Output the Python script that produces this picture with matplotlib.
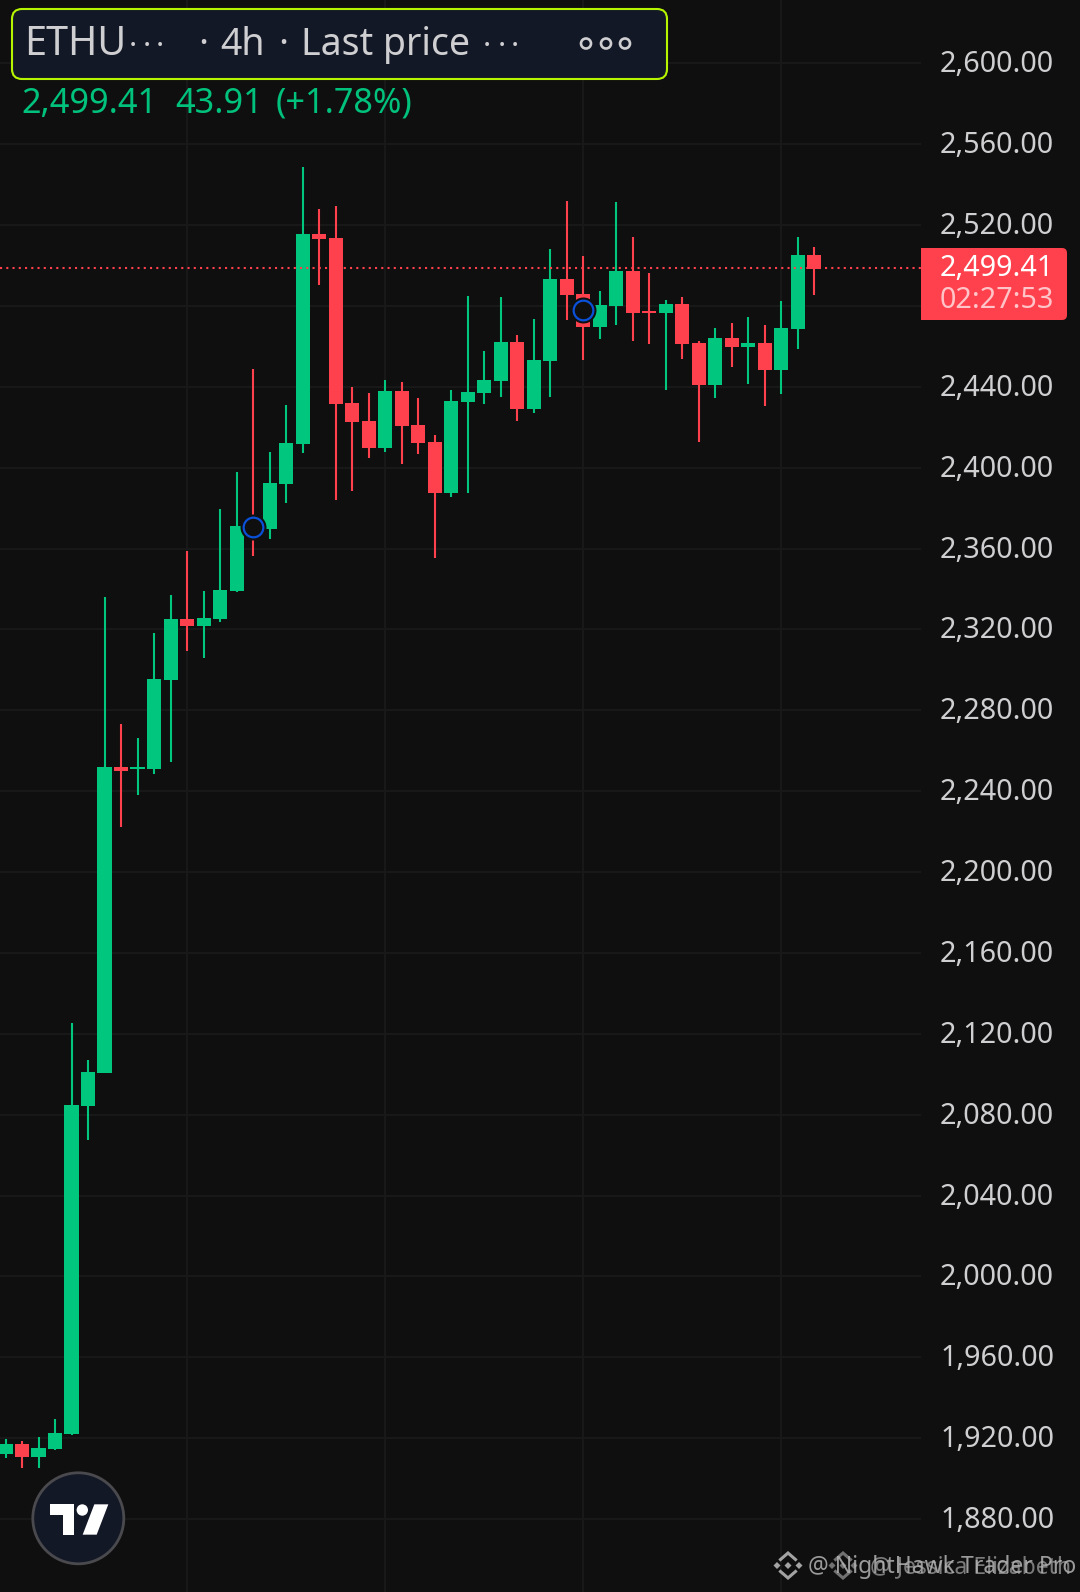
import matplotlib
matplotlib.use('Agg')
import matplotlib.pyplot as plt
from matplotlib.patches import FancyBboxPatch, Circle, Polygon, Rectangle
from matplotlib.transforms import ScaledTranslation
import numpy as np

plt.rcParams['font.family'] = ['Noto Sans', 'DejaVu Sans']

# candles
opens = [1912.3, 1917.1, 1910.8, 1914.6, 1922.0, 2084.3, 2100.6, 2251.9, 2251.0, 2251.0,
         2295.0, 2325.1, 2321.7, 2325.1, 2339.0, 2371.1, 2369.7, 2391.9, 2411.7, 2515.6,
         2513.6, 2432.0, 2423.1, 2409.7, 2437.9, 2421.1, 2412.7, 2387.5, 2432.5, 2436.9,
         2442.9, 2462.1, 2429.0, 2452.7, 2493.3, 2485.9, 2469.6, 2480.0, 2497.3, 2477.5,
         2476.5, 2480.9, 2461.7, 2440.9, 2464.1, 2459.7, 2461.7, 2448.3, 2468.6, 2505.2]
highs = [1919.6, 1918.6, 1920.6, 1929.5, 2125.3, 2107.0, 2336.0, 2273.2, 2266.3, 2318.2,
         2337.0, 2358.8, 2339.0, 2379.5, 2397.8, 2448.8, 2407.7, 2431.0, 2548.7, 2527.9,
         2529.4, 2439.9, 2436.9, 2443.4, 2442.4, 2434.4, 2416.1, 2438.4, 2484.9, 2457.7,
         2484.4, 2465.6, 2473.5, 2508.1, 2531.9, 2504.7, 2487.4, 2531.4, 2514.1, 2496.3,
         2482.9, 2484.4, 2462.6, 2469.1, 2471.5, 2474.5, 2470.6, 2482.4, 2514.1, 2509.1]
lows = [1910.3, 1905.4, 1905.4, 1914.1, 1921.5, 2067.5, 2100.6, 2222.3, 2238.1, 2248.5,
        2254.4, 2309.3, 2305.9, 2323.7, 2338.5, 2356.3, 2364.7, 2382.5, 2407.2, 2490.3,
        2384.0, 2388.5, 2404.8, 2407.7, 2401.8, 2406.8, 2355.3, 2385.5, 2387.5, 2431.5,
        2434.9, 2423.1, 2427.0, 2434.9, 2473.0, 2453.2, 2463.6, 2470.6, 2462.6, 2461.2,
        2438.4, 2453.7, 2412.7, 2434.4, 2449.8, 2441.4, 2430.5, 2436.4, 2458.7, 2485.4]
closes = [1917.1, 1910.8, 1915.1, 1922.5, 2084.8, 2101.1, 2251.9, 2250.0, 2251.9, 2295.5,
          2325.1, 2321.7, 2325.6, 2339.5, 2371.1, 2368.7, 2392.4, 2412.2, 2515.6, 2513.1,
          2431.5, 2422.6, 2409.7, 2437.9, 2420.6, 2412.2, 2387.5, 2433.0, 2437.4, 2443.4,
          2462.1, 2429.0, 2453.2, 2493.3, 2485.4, 2469.6, 2480.4, 2497.3, 2476.5, 2476.5,
          2480.9, 2461.2, 2440.9, 2464.1, 2459.7, 2461.7, 2448.3, 2469.1, 2505.2, 2498.3]

price_ticks = [1880, 1920, 1960, 2000, 2040, 2080, 2120, 2160, 2200, 2240, 2280, 2320,
               2360, 2400, 2440, 2480, 2520, 2560, 2600]
# the pane skips this label, the price tag sits there
hidden_tick = 2480
time_ticks = [11, 23, 35, 47]

event_idx = [15, 35]
event_prices = [2370.8, 2478.0]
last_price = 2499.41
line_price = 2498.8

BG = '#0F0F0F'
GREEN = '#01C67E'
RED = '#FF404D'
GRID = '#181818'
LABEL = '#CFCFD2'
VALUE_GREEN = '#00C27C'

fig = plt.figure(figsize=(10.8, 15.92), dpi=100, facecolor=BG)
ax = fig.add_axes([0, 0, 921 / 1080, 1], facecolor=BG)

x = np.arange(len(opens))
opens_a = np.array(opens)
closes_a = np.array(closes)
colors = [GREEN if c >= o else RED for o, c in zip(opens, closes)]

ax.vlines(x, lows, highs, colors=colors, linewidth=1.5, zorder=3)
ax.bar(x, closes_a - opens_a, bottom=opens_a, width=0.85, color=colors, linewidth=0, zorder=4)

ax.axhline(line_price, color=RED, linewidth=1.5, linestyle=(0, (1, 2)), zorder=5)

ax.scatter(event_idx, event_prices, s=350, color=BG, linewidths=0, zorder=6)
ax.scatter(event_idx, event_prices, s=200, facecolor=BG, edgecolor='#0A50D8', linewidths=1.6, zorder=7)

ax.set_xlim(-1 / 3, 55.48)
ax.set_ylim(1843.9, 2631.3)
ax.yaxis.tick_right()
ax.set_yticks(price_ticks)
ax.set_yticklabels(['' if p == hidden_tick else f'{p:,.2f}' for p in price_ticks])
ax.set_xticks(time_ticks)
ax.set_xticklabels([])
ax.tick_params(length=0, pad=13.7, labelsize=20.7, labelcolor=LABEL)
for lab in ax.get_yticklabels():
    lab.set_transform(lab.get_transform() + ScaledTranslation(0, 2 / 100, fig.dpi_scale_trans))
ax.grid(True, color=GRID, linewidth=1.5)
ax.set_axisbelow(True)
for s in ax.spines.values():
    s.set_visible(False)

# overlay in screen pixels for the header, the tag and the logos
ov = fig.add_axes([0, 0, 1, 1], zorder=10)
ov.set_xlim(0, 1080)
ov.set_ylim(1592, 0)
ov.axis('off')

ov.add_patch(FancyBboxPatch((12, 9), 655, 70, boxstyle='round,pad=0,rounding_size=10',
                            facecolor='#131826', edgecolor='#B6F500', linewidth=1.5))
hdr = dict(color=LABEL, fontsize=27, va='baseline', ha='left')
ov.text(24.5, 55, 'ETHU', color=LABEL, fontsize=28.5, va='baseline', ha='left')
ov.text(198, 55, '·', **hdr)
ov.text(220, 55, '4h', **hdr)
ov.text(278, 55, '·', **hdr)
ov.text(301, 55, 'Last price', **hdr)
for cx in [133, 147, 160, 487, 501.5, 515]:
    ov.text(cx, 55, '·', color=LABEL, fontsize=22, va='baseline', ha='center')
for cx in [586, 606, 625]:
    ov.add_patch(Circle((cx, 43.5), 5, facecolor='none', edgecolor=LABEL, linewidth=1.9))

val = dict(color=VALUE_GREEN, fontsize=24.7, va='baseline', ha='left')
ov.text(21.5, 113, '2,499.41', **val)
ov.text(175.5, 113, '43.91', **val)
ov.text(276, 113, '(+1.78%)', **val)

# price tag
ov.add_patch(FancyBboxPatch((921, 248), 146, 72, boxstyle='round,pad=0,rounding_size=5',
                            facecolor=RED, edgecolor='none'))
ov.add_patch(Rectangle((921, 248), 20, 72, facecolor=RED, edgecolor='none'))
ov.text(940, 276, f'{last_price:,.2f}', color='white', fontsize=20.7, va='baseline', ha='left')
ov.text(940, 308, '02:27:53', color='#FFC4C8', fontsize=20.7, va='baseline', ha='left')

# tradingview logo
ov.add_patch(Circle((78.3, 1518.3), 45.5, facecolor='#131826', edgecolor='#4A4A4E', linewidth=2))
t_shape = np.array([[150, 313], [223, 313], [223, 404], [190, 404], [190, 346], [150, 346]]) / 3 + [0, 1400]
slash = np.array([[283, 313], [325, 313], [290, 404], [248, 404]]) / 3 + [0, 1400]
ov.add_patch(Polygon(t_shape, closed=True, facecolor='white', edgecolor='none'))
ov.add_patch(Polygon(slash, closed=True, facecolor='white', edgecolor='none'))
ov.add_patch(Circle((82.3, 1510), 5.7, facecolor='white', edgecolor='none'))


def binance_icon(cx, cy, col, al):
    for dx, dy in [(-11, 0), (11, 0), (0, 0)]:
        ov.add_patch(Polygon([[cx + dx - 3.5, cy + dy], [cx + dx, cy + dy - 3.5],
                              [cx + dx + 3.5, cy + dy], [cx + dx, cy + dy + 3.5]],
                             facecolor=col, edgecolor='none', alpha=al))
    for sgn in [-1, 1]:
        ov.plot([cx - 7.5, cx, cx + 7.5], [cy + sgn * 6, cy + sgn * 12.5, cy + sgn * 6],
                color=col, linewidth=2.2, alpha=al, solid_joinstyle='miter')


# two watermarks on top of each other
binance_icon(788, 1565.5, '#B4B4B4', 0.9)
binance_icon(843, 1565.5, '#B4B4B4', 0.6)
ov.text(808, 1573, '@ NightHawk Trader Pro', color='#B4B4B4', alpha=0.85, fontsize=16.5,
        va='baseline', ha='left')
ov.text(870, 1573, '@ Jessica Elizabeth', color='#B4B4B4', alpha=0.65, fontsize=16.5,
        va='baseline', ha='left')

fig.savefig('out.png', dpi=100, facecolor=BG)
